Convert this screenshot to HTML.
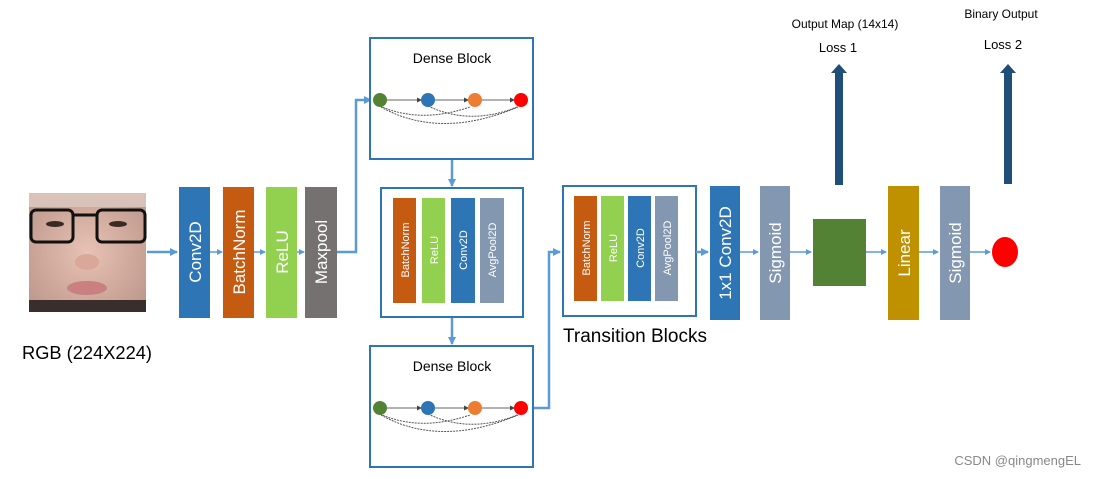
<!DOCTYPE html>
<html><head><style>
html,body{margin:0;padding:0;background:#fff;}
svg{display:block;}
text{font-family:"Liberation Sans",sans-serif;}
</style></head><body>
<svg width="1096" height="479" viewBox="0 0 1096 479" xmlns="http://www.w3.org/2000/svg">
<defs>
<marker id="a" markerWidth="6" markerHeight="6" refX="5" refY="3" orient="auto" markerUnits="userSpaceOnUse"><path d="M0,0 L6,3 L0,6 z" fill="#5b9bd5"/></marker>
<marker id="b" markerWidth="8" markerHeight="8" refX="7" refY="4" orient="auto" markerUnits="userSpaceOnUse"><path d="M0,0 L8,4 L0,8 z" fill="#5b9bd5"/></marker>
<marker id="k" markerWidth="5" markerHeight="5" refX="4" refY="2.5" orient="auto" markerUnits="userSpaceOnUse"><path d="M0,0 L5,2.5 L0,5 z" fill="#444"/></marker>
<radialGradient id="skin" cx="50%" cy="50%" r="70%"><stop offset="0" stop-color="#e8c2b4"/><stop offset="1" stop-color="#b99488"/></radialGradient>
<g id="dense">
<line x1="387" y1="0" x2="421" y2="0" stroke="#666" stroke-width="1" marker-end="url(#k)"/>
<line x1="435" y1="0" x2="468" y2="0" stroke="#666" stroke-width="1" marker-end="url(#k)"/>
<line x1="482" y1="0" x2="514" y2="0" stroke="#666" stroke-width="1" marker-end="url(#k)"/>
<path d="M380,6 Q420,24 470,7" fill="none" stroke="#555" stroke-dasharray="2,1" stroke-width="1"/>
<path d="M428,6 Q470,26 517,7" fill="none" stroke="#555" stroke-dasharray="2,1" stroke-width="1"/>
<path d="M381,7 Q440,40 518,7" fill="none" stroke="#555" stroke-dasharray="2,1" stroke-width="1"/>
<circle cx="380" cy="0" r="7" fill="#548235"/>
<circle cx="428" cy="0" r="7" fill="#2e75b6"/>
<circle cx="475" cy="0" r="7" fill="#ed7d31"/>
<circle cx="521" cy="0" r="7" fill="#ff0000"/>
</g>
</defs>

<rect x="29" y="193" width="117" height="119" fill="url(#skin)"/>
<rect x="29" y="193" width="117" height="14" fill="#d9c2b8"/>
<rect x="29" y="300" width="117" height="12" fill="#3a2e2c"/>
<rect x="31" y="210" width="42" height="32" rx="5" fill="none" stroke="#111" stroke-width="3"/>
<rect x="97" y="210" width="48" height="32" rx="5" fill="none" stroke="#111" stroke-width="3"/>
<line x1="73" y1="215" x2="97" y2="215" stroke="#111" stroke-width="3"/>
<ellipse cx="55" cy="224" rx="9" ry="3" fill="#3a2a26"/>
<ellipse cx="118" cy="224" rx="9" ry="3" fill="#3a2a26"/>
<ellipse cx="87" cy="262" rx="12" ry="8" fill="#d9a898"/>
<ellipse cx="87" cy="288" rx="20" ry="7" fill="#c98080"/>
<text x="22" y="359" font-size="18" textLength="130" lengthAdjust="spacingAndGlyphs" fill="#000">RGB (224X224)</text>

<line x1="147" y1="252" x2="177" y2="252" stroke="#5b9bd5" stroke-width="2.5" marker-end="url(#b)"/>
<rect x="179" y="187" width="31" height="131" fill="#2e75b6"/>
<rect x="223" y="187" width="31" height="131" fill="#c55a11"/>
<rect x="266" y="187" width="31" height="131" fill="#92d050"/>
<rect x="305" y="187" width="32" height="131" fill="#767171"/>
<line x1="210" y1="252" x2="222" y2="252" stroke="#5b9bd5" stroke-width="1.5" marker-end="url(#a)"/>
<line x1="254" y1="252" x2="265" y2="252" stroke="#5b9bd5" stroke-width="1.5" marker-end="url(#a)"/>
<line x1="297" y1="252" x2="304" y2="252" stroke="#5b9bd5" stroke-width="1.5" marker-end="url(#a)"/>
<g fill="#fff" font-size="17">
<text transform="translate(201,252) rotate(-90)" text-anchor="middle">Conv2D</text>
<text transform="translate(245,252) rotate(-90)" text-anchor="middle">BatchNorm</text>
<text transform="translate(288,252) rotate(-90)" text-anchor="middle">ReLU</text>
<text transform="translate(327,252) rotate(-90)" text-anchor="middle">Maxpool</text>
</g>
<polyline points="337,252 356,252 356,100 371,100" fill="none" stroke="#5b9bd5" stroke-width="2.5" marker-end="url(#b)"/>

<rect x="370" y="38" width="163" height="121" fill="#fff" stroke="#2e75b6" stroke-width="2"/>
<text x="452" y="63" font-size="14" text-anchor="middle">Dense Block</text>
<use href="#dense" transform="translate(0,100)"/>
<line x1="452" y1="160" x2="452" y2="186" stroke="#5b9bd5" stroke-width="2.5" marker-end="url(#b)"/>

<rect x="381" y="188" width="142" height="129" fill="#fff" stroke="#2e75b6" stroke-width="2"/>
<rect x="393" y="198" width="23" height="105" fill="#c55a11"/>
<rect x="422" y="198" width="23" height="105" fill="#92d050"/>
<rect x="451" y="198" width="24" height="105" fill="#2e75b6"/>
<rect x="480" y="198" width="24" height="105" fill="#8497b0"/>
<g fill="#fff" font-size="11">
<text transform="translate(409,250) rotate(-90)" text-anchor="middle">BatchNorm</text>
<text transform="translate(438,250) rotate(-90)" text-anchor="middle">ReLU</text>
<text transform="translate(467,250) rotate(-90)" text-anchor="middle">Conv2D</text>
<text transform="translate(496,250) rotate(-90)" text-anchor="middle">AvgPool2D</text>
</g>
<line x1="452" y1="318" x2="452" y2="344" stroke="#5b9bd5" stroke-width="2.5" marker-end="url(#b)"/>

<rect x="370" y="346" width="163" height="121" fill="#fff" stroke="#2e75b6" stroke-width="2"/>
<text x="452" y="371" font-size="14" text-anchor="middle">Dense Block</text>
<use href="#dense" transform="translate(0,408)"/>
<polyline points="534,408 549,408 549,252 560,252" fill="none" stroke="#5b9bd5" stroke-width="2.5" marker-end="url(#b)"/>

<rect x="563" y="186" width="133" height="130" fill="#fff" stroke="#2e75b6" stroke-width="2"/>
<rect x="574" y="196" width="23" height="105" fill="#c55a11"/>
<rect x="601" y="196" width="23" height="105" fill="#92d050"/>
<rect x="628" y="196" width="23" height="105" fill="#2e75b6"/>
<rect x="655" y="196" width="23" height="105" fill="#8497b0"/>
<g fill="#fff" font-size="11">
<text transform="translate(590,248) rotate(-90)" text-anchor="middle">BatchNorm</text>
<text transform="translate(617,248) rotate(-90)" text-anchor="middle">ReLU</text>
<text transform="translate(644,248) rotate(-90)" text-anchor="middle">Conv2D</text>
<text transform="translate(671,248) rotate(-90)" text-anchor="middle">AvgPool2D</text>
</g>
<text x="563" y="342" font-size="19">Transition Blocks</text>
<line x1="696" y1="252" x2="708" y2="252" stroke="#5b9bd5" stroke-width="2.5" marker-end="url(#b)"/>

<rect x="710" y="186" width="30" height="134" fill="#2e75b6"/>
<rect x="760" y="186" width="30" height="134" fill="#8497b0"/>
<rect x="813" y="219" width="53" height="67" fill="#548235"/>
<rect x="888" y="186" width="31" height="134" fill="#bf9000"/>
<rect x="940" y="186" width="30" height="134" fill="#8497b0"/>
<ellipse cx="1005" cy="252" rx="13" ry="15" fill="#ff0000"/>
<g fill="#fff" font-size="17">
<text transform="translate(731,253) rotate(-90)" text-anchor="middle">1x1 Conv2D</text>
<text transform="translate(781,253) rotate(-90)" text-anchor="middle">Sigmoid</text>
<text transform="translate(910,253) rotate(-90)" text-anchor="middle">Linear</text>
<text transform="translate(961,253) rotate(-90)" text-anchor="middle">Sigmoid</text>
</g>
<line x1="740" y1="252" x2="758" y2="252" stroke="#5b9bd5" stroke-width="1.5" marker-end="url(#a)"/>
<line x1="790" y1="252" x2="811" y2="252" stroke="#5b9bd5" stroke-width="1.5" marker-end="url(#a)"/>
<line x1="866" y1="252" x2="886" y2="252" stroke="#5b9bd5" stroke-width="1.5" marker-end="url(#a)"/>
<line x1="919" y1="252" x2="938" y2="252" stroke="#5b9bd5" stroke-width="1.5" marker-end="url(#a)"/>
<line x1="970" y1="252" x2="990" y2="252" stroke="#5b9bd5" stroke-width="1.5" marker-end="url(#a)"/>

<rect x="835" y="72" width="8" height="113" fill="#1f4e79"/>
<path d="M831,73 L839,64 L847,73 z" fill="#1f4e79"/>
<rect x="1004" y="72" width="8" height="112" fill="#1f4e79"/>
<path d="M1000,73 L1008,64 L1016,73 z" fill="#1f4e79"/>
<text x="845" y="28" font-size="12" text-anchor="middle">Output Map (14x14)</text>
<text x="838" y="52" font-size="13" text-anchor="middle">Loss 1</text>
<text x="1001" y="18" font-size="12" text-anchor="middle">Binary Output</text>
<text x="1003" y="49" font-size="13" text-anchor="middle">Loss 2</text>
<text x="1081" y="465" font-size="13" fill="#888" text-anchor="end">CSDN @qingmengEL</text>
</svg>
</body></html>
